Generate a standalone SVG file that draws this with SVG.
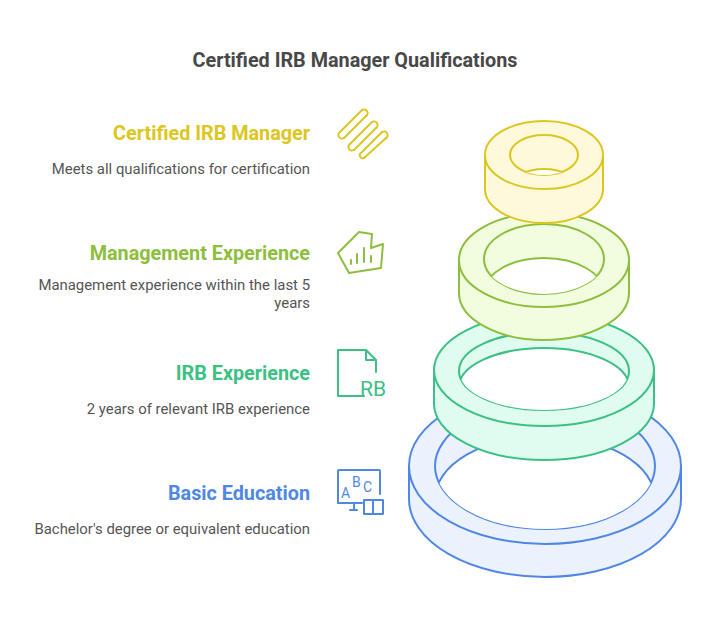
<svg xmlns="http://www.w3.org/2000/svg" width="705" height="628" viewBox="0 0 705 628">
<style>
text{font-family:Roboto,"Liberation Sans",sans-serif}
.t{font-size:19.8px;font-weight:bold;fill:#484848}
.h{font-size:19.8px;font-weight:bold;text-anchor:end}
.d{font-size:14.9px;fill:#555;text-anchor:end}
.r{stroke-width:2;stroke-linejoin:round}
.i{fill:none;stroke-width:2;stroke-linecap:round;stroke-linejoin:round}
</style>
<defs>
<clipPath id="cb"><ellipse cx="545" cy="466" rx="110" ry="63"/></clipPath>
<clipPath id="cg"><ellipse cx="544" cy="371" rx="85" ry="39"/></clipPath>
<clipPath id="cl"><ellipse cx="544" cy="259" rx="60" ry="35"/></clipPath>
<clipPath id="cy"><ellipse cx="544" cy="155" rx="34" ry="20"/></clipPath>
</defs>
<rect width="705" height="628" fill="#fff"/>
<text class="t" x="355" y="67" text-anchor="middle">Certified IRB Manager Qualifications</text>

<g id="basic" class="r" stroke="#4F87E3" fill="#EBF2FE">
<path d="M409 466 A136 78 0 0 1 681 466 V499 A136 78 0 0 1 409 499 Z"/>
<path d="M409 466 A136 78 0 0 0 681 466" fill="none"/>
<ellipse cx="545" cy="466" rx="110" ry="63"/>
<ellipse cx="545" cy="499" rx="110" ry="63" fill="#fff" clip-path="url(#cb)"/>
</g>
<g id="irb" class="r" stroke="#3CC083" fill="#E0FBF0">
<path d="M434 370 A110 56 0 0 1 654 370 V404 A110 56 0 0 1 434 404 Z"/>
<path d="M434 370 A110 56 0 0 0 654 370" fill="none"/>
<ellipse cx="544" cy="371" rx="85" ry="39"/>
<ellipse cx="544" cy="387" rx="85" ry="39" fill="#fff" clip-path="url(#cg)"/>
</g>
<g id="mgmt" class="r" stroke="#8DBE3E" fill="#F2FDE0">
<path d="M459 260 A85 47 0 0 1 629 260 V293 A85 47 0 0 1 459 293 Z"/>
<path d="M459 260 A85 47 0 0 0 629 260" fill="none"/>
<ellipse cx="544" cy="259" rx="60" ry="35"/>
<ellipse cx="544" cy="293" rx="60" ry="35" fill="#fff" clip-path="url(#cl)"/>
</g>
<g id="cert" class="r" stroke="#DCC622" fill="#FEF9DB">
<path d="M485 155 A59 34 0 0 1 603 155 V189 A59 34 0 0 1 485 189 Z"/>
<path d="M485 155 A59 34 0 0 0 603 155" fill="none"/>
<ellipse cx="544" cy="155" rx="34" ry="20"/>
<ellipse cx="544" cy="189" rx="34" ry="20" fill="#fff" clip-path="url(#cy)"/>
</g>

<g id="label-cert">
<text class="h" x="310" y="140" fill="#DCC622">Certified IRB Manager</text>
<text class="d" x="310" y="174">Meets all qualifications for certification</text>
<g class="i" stroke="#DCC622">
<path d="M362 110 L340 132 M366 116 L344 138" /><path d="M340 132 A3 3 0 0 0 344 138" /><path d="M362 110 A3 3 0 0 1 366 116"/>
<path d="M372 122 L350 144 M376 128 L354 150"/><path d="M350 144 A3 3 0 0 0 354 150"/><path d="M372 122 A3 3 0 0 1 376 128"/>
<path d="M382 132 L360 154 M386 138 L364 158"/><path d="M360 154 A3 3 0 0 0 364 158"/><path d="M382 132 A3 3 0 0 1 386 138"/>
</g>
</g>
<g id="label-mgmt">
<text class="h" x="310" y="260" fill="#8DBE3E">Management Experience</text>
<text class="d" x="310" y="290">Management experience within the last 5</text>
<text class="d" x="310" y="308">years</text>
<path class="i" stroke="#8DBE3E" d="M359 232 L372 234 L371 248 L383 244 L381 268 L349 273 L338 253 Z M351 260 V264 M357 254 V263 M364 248 V262 M371 256 V262"/>
</g>
<g id="label-irb">
<text class="h" x="310" y="380" fill="#3CC083">IRB Experience</text>
<text class="d" x="310" y="414">2 years of relevant IRB experience</text>
<g class="i" stroke="#3CC083">
<path d="M364 396 H338 V350 H366 L376 360 V372 M366 350 V360 H376"/>
<text x="360" y="396" font-size="21" fill="#3CC083" stroke="none">RB</text>
</g>
</g>
<g id="label-basic">
<text class="h" x="310" y="500" fill="#4F87E3">Basic Education</text>
<text class="d" x="310" y="534">Bachelor's degree or equivalent education</text>
<g class="i" stroke="#4F87E3">
<path d="M362 503 H338 V471 Q338 470 339 470 H379 Q380 470 380 471 V494 M354 503 V510 M350 510 H357"/>
<path d="M364 500 V514 H373 V500 Z M373 500 H383 V514 H373"/>
</g>
<g font-size="14" fill="#4F87E3"><text x="341" y="498">A</text><text x="352" y="487">B</text><text x="363" y="492">C</text></g>
</g>
</svg>
